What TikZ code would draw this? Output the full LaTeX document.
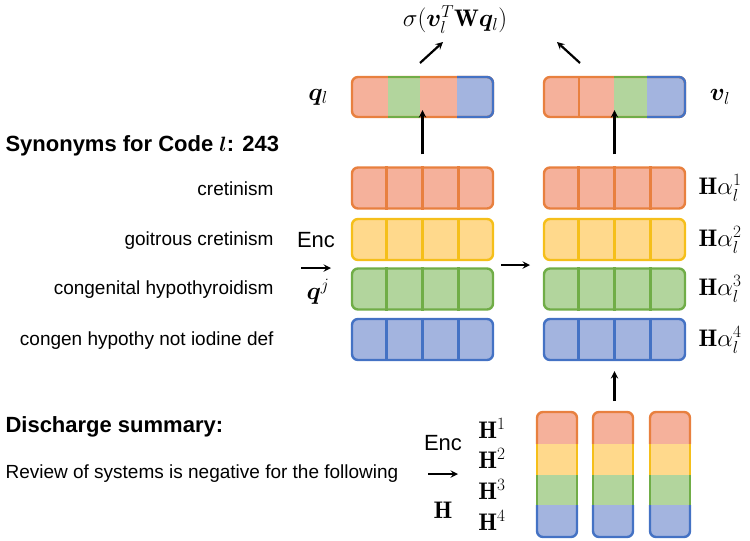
\documentclass[tikz,border=0pt]{standalone}
\usepackage{fontspec}
\usepackage{amsmath,bm}
\setsansfont{Liberation Sans}
\usetikzlibrary{calc}
\definecolor{orF}{HTML}{F5B19B}\definecolor{orD}{HTML}{E8803F}
\definecolor{yeF}{HTML}{FFD98C}\definecolor{yeD}{HTML}{F5BF1A}
\definecolor{grF}{HTML}{B2D59D}\definecolor{grD}{HTML}{70AD47}
\definecolor{blF}{HTML}{A3B4DF}\definecolor{blD}{HTML}{4472C4}
\tikzstyle{dir}=[->, >=stealth, line width=2.2pt]
\tikzstyle{row}=[rectangle, rounded corners=6pt, line width=2.4pt, minimum width=141pt, minimum height=41pt, inner sep=0pt]
\tikzstyle{lbl}=[font=\sffamily\fontsize{19}{22}\selectfont, anchor=east]
\tikzstyle{hd}=[font=\sffamily\bfseries\fontsize{22}{26}\selectfont, anchor=west]
\tikzstyle{mth}=[font=\fontsize{24}{28}\selectfont]
\tikzstyle{enc}=[font=\sffamily\fontsize{22}{26}\selectfont]
\begin{document}
\begin{tikzpicture}[x=1pt,y=-1pt]
	\useasboundingbox (0,0) rectangle (750,541);
	% top score
	\node[mth] (score) at (455,20) {$\sigma(\bm{v}_l^T\mathbf{W}\bm{q}_l)$};
	% query bar
	\begin{scope}
	\clip[rounded corners=6pt] (352,77) rectangle (493,117);
	\fill[orF] (352,77) rectangle (388,117);
	\fill[grF] (388,77) rectangle (420,117);
	\fill[orF] (420,77) rectangle (457,117);
	\fill[blF] (457,77) rectangle (493,117);
	\end{scope}
	\node[row, minimum height=40pt, draw=orD] (ql) at (422.5,97) {};
	\draw[grD, line width=2.4pt] (388,77) -- (420,77) (388,117) -- (420,117);
	\draw[blD, line width=2.4pt, rounded corners=6pt] (457,77) -- (493,77) -- (493,117) -- (457,117);
	% code bar
	\begin{scope}
	\clip[rounded corners=6pt] (544,77) rectangle (685,117);
	\fill[orF] (544,77) rectangle (614,117);
	\fill[grF] (614,77) rectangle (647,117);
	\fill[blF] (647,77) rectangle (685,117);
	\end{scope}
	\node[row, minimum height=40pt, draw=orD] (vl) at (614.5,97) {};
	\draw[orD, line width=2.4pt] (579,77) -- (579,117);
	\draw[grD, line width=2.4pt] (614,77) -- (647,77) (614,117) -- (647,117);
	\draw[blD, line width=2.4pt, rounded corners=6pt] (647,77) -- (685,77) -- (685,117) -- (647,117);
	\node[mth] (qlab) at (318,97) {$\bm{q}_l$};
	\node[mth] (vlab) at (720,97) {$\bm{v}_l$};
	\coordinate (qa) at (420,63); \coordinate (qb) at (443,42);
	\coordinate (va) at (580,63); \coordinate (vb) at (557,42);
	\draw[dir] (qa) -- (qb);
	\draw[dir] (va) -- (vb);

	% synonym stacks
	\node[row, fill=orF, draw=orD] (s1) at (422.5,188) {};
	\node[row, fill=yeF, draw=yeD] (s2) at (422.5,239.5) {};
	\node[row, fill=grF, draw=grD] (s3) at (422.5,289) {};
	\node[row, fill=blF, draw=blD] (s4) at (422.5,339.5) {};
	\node[row, fill=orF, draw=orD] (a1) at (614.5,188) {};
	\node[row, fill=yeF, draw=yeD] (a2) at (614.5,239.5) {};
	\node[row, fill=grF, draw=grD] (a3) at (614.5,289) {};
	\node[row, fill=blF, draw=blD] (a4) at (614.5,339.5) {};
	\foreach \n/\c in {s1/orD,s2/yeD,s3/grD,s4/blD,a1/orD,a2/yeD,a3/grD,a4/blD}
		\foreach \f in {0.25,0.5,0.75}
			\draw[\c, line width=2.4pt] ($(\n.north west)!\f!(\n.north east)$) -- ($(\n.south west)!\f!(\n.south east)$);
	\draw[dir] ($(s1.north)+(0,-12)$) -- ($(ql.south)+(0,-8)$);
	\draw[dir] ($(a1.north)+(0,-12)$) -- ($(vl.south)+(0,-8)$);
	\coordinate (m1) at (501,265); \coordinate (m2) at (530,265);
	\draw[dir] (m1) -- (m2);
	\node[mth] (h1) at (720,188) {$\mathbf{H}\alpha_l^1$};
	\node[mth] (h2) at (720,239.5) {$\mathbf{H}\alpha_l^2$};
	\node[mth] (h3) at (720,289) {$\mathbf{H}\alpha_l^3$};
	\node[mth] (h4) at (720,339.5) {$\mathbf{H}\alpha_l^4$};
	\node[hd] (syn) at (2,146) {Synonyms for Code $\bm{l}$: 243};
	\node[lbl] (t1) at (277,189) {cretinism};
	\node[lbl] (t2) at (277,241) {goitrous cretinism};
	\node[lbl] (t3) at (277,290) {congenital hypothyroidism};
	\node[lbl] (t4) at (277,341) {congen hypothy not iodine def};
	\node[enc] (enc1) at (316,240) {Enc};
	\coordinate (e1) at (301,268); \coordinate (e2) at (331,268);
	\draw[dir] (e1) -- (e2);
	\node[mth] (qj) at (318,292) {$\bm{q}^j$};

	% document token stacks
	\foreach \x [count=\i] in {557,613,670} {
		\begin{scope}
		\clip[rounded corners=6pt] (\x-20,412) rectangle (\x+20,537);
		\fill[orF] (\x-20,412) rectangle (\x+20,444);
		\fill[yeF] (\x-20,444) rectangle (\x+20,475);
		\fill[grF] (\x-20,475) rectangle (\x+20,505);
		\fill[blF] (\x-20,505) rectangle (\x+20,537);
		\end{scope}
		\draw[orD, line width=2.4pt, rounded corners=6pt] (\x-20,444) -- (\x-20,412) -- (\x+20,412) -- (\x+20,444);
		\draw[yeD, line width=2.4pt] (\x-20,444) -- (\x-20,475) (\x+20,444) -- (\x+20,475);
		\draw[grD, line width=2.4pt] (\x-20,475) -- (\x-20,505) (\x+20,475) -- (\x+20,505);
		\draw[blD, line width=2.4pt, rounded corners=6pt] (\x-20,505) -- (\x-20,537) -- (\x+20,537) -- (\x+20,505);
		\coordinate (tok\i) at (\x,412);
	}
	\coordinate (tk) at ($(a4.south)+(0,40)$);
	\draw[dir] (tk) -- ($(a4.south)+(0,10)$);
	\node[mth] (H1) at (492,428) {$\mathbf{H}^1$};
	\node[mth] (H2) at (492,458) {$\mathbf{H}^2$};
	\node[mth] (H3) at (492,489) {$\mathbf{H}^3$};
	\node[mth] (H4) at (492,520) {$\mathbf{H}^4$};
	\node[enc] (enc2) at (443,443) {Enc};
	\coordinate (d1) at (428,474); \coordinate (d2) at (458,474);
	\draw[dir] (d1) -- (d2);
	\node[mth] (Hd) at (443,510) {$\mathbf{H}$};
	\node[hd] (dis) at (2,427) {Discharge summary:};
	\node[lbl, anchor=west] (rev) at (2,474) {Review of systems is negative for the following};
\end{tikzpicture}
\end{document}
